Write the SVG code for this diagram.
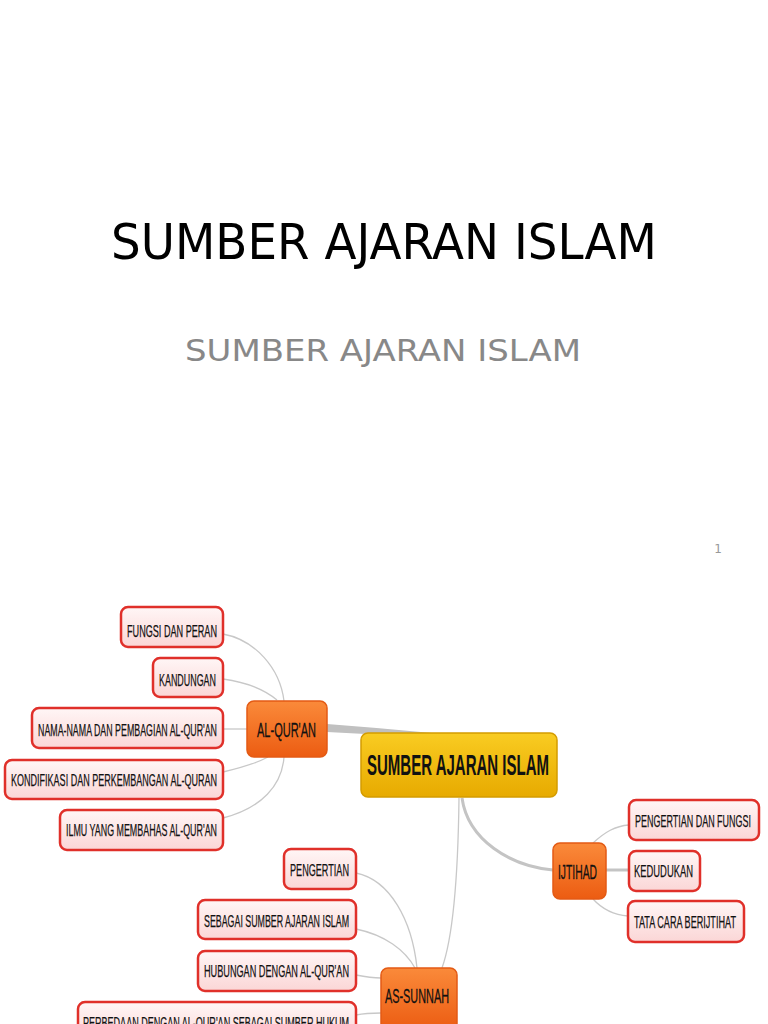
<svg xmlns="http://www.w3.org/2000/svg" width="768" height="1024" viewBox="0 0 768 1024">
<defs>
<linearGradient id="gLeaf" x1="0" y1="0" x2="0" y2="1">
<stop offset="0" stop-color="#fff6f6"/><stop offset="1" stop-color="#fbd6d6"/>
</linearGradient>
<linearGradient id="gOrange" x1="0" y1="0" x2="0" y2="1">
<stop offset="0" stop-color="#fa8a3a"/><stop offset="1" stop-color="#ec5c12"/>
</linearGradient>
<linearGradient id="gYellow" x1="0" y1="0" x2="0" y2="1">
<stop offset="0" stop-color="#f9cc22"/><stop offset="1" stop-color="#e7aa00"/>
</linearGradient>
</defs>
<style>
.title{font-family:"DejaVu Sans",sans-serif;font-size:50px;fill:#000}
.sub{font-family:"DejaVu Sans",sans-serif;font-size:30px;fill:#888}
.pg{font-family:"DejaVu Sans",sans-serif;font-size:12px;fill:#999}
.leaf rect{fill:url(#gLeaf);stroke:#e0302a;stroke-width:2.5}
.leaf text{font-family:"Liberation Sans",Arial,sans-serif;font-size:17px;fill:#111;stroke:#111;stroke-width:0.25}
.main rect{fill:url(#gOrange);stroke:#e35a14;stroke-width:1.5}
.main text{font-family:"Liberation Sans",Arial,sans-serif;font-size:21px;fill:#111;stroke:#111;stroke-width:0.3}
.root rect{fill:url(#gYellow);stroke:#d49c00;stroke-width:1.5}
.root text{font-family:"Liberation Sans",Arial,sans-serif;font-size:29px;font-weight:bold;fill:#111}
.c{fill:none;stroke:#c8c8c8;stroke-width:1.3}
.ct{fill:none;stroke:#c4c4c4;stroke-width:3}
</style>

<text class="title" x="384" y="259" text-anchor="middle" textLength="546" lengthAdjust="spacingAndGlyphs">SUMBER AJARAN ISLAM</text>
<text class="sub" x="383" y="361" text-anchor="middle" textLength="396" lengthAdjust="spacingAndGlyphs">SUMBER AJARAN ISLAM</text>
<text class="pg" x="718" y="553" text-anchor="middle">1</text>

<g id="connectors">
<path class="c" d="M223,634 C255,640 280,668 284,701"/>
<path class="c" d="M223,679 C245,682 265,690 277,700"/>
<path class="c" d="M223,729 L247,729"/>
<path class="c" d="M223,772 C240,768 255,764 268,757"/>
<path class="c" d="M223,818 C262,808 282,785 284,757"/>
<path d="M327,724 Q380,728 432,733 L432,737 Q380,735 327,732 Z" fill="#c0c0c0"/>
<path class="ct" d="M462,798 C468,840 510,866 553,870"/>
<path class="c" d="M459,798 C458,880 452,940 442,968"/>
<path class="c" d="M593,843 C605,832 615,826 629,825"/>
<path class="ct" d="M606,870 L629,870"/>
<path class="c" d="M593,899 C603,910 615,915 628,916"/>
<path class="c" d="M356,873 C390,880 412,920 417,968"/>
<path class="c" d="M356,929 C385,935 405,950 415,968"/>
<path class="c" d="M356,975 C366,977 372,978 381,978"/>
<path class="c" d="M356,1015 C366,1013 372,1013 381,1013"/>
</g>

<g id="root" class="root">
<rect x="361" y="733" width="196" height="64" rx="7"/>
<text x="367" y="775" textLength="182" lengthAdjust="spacingAndGlyphs">SUMBER AJARAN ISLAM</text>
</g>

<g id="alquran" class="main">
<rect x="247" y="701" width="80" height="56" rx="7"/>
<text x="257" y="737" textLength="59" lengthAdjust="spacingAndGlyphs">AL-QUR'AN</text>
</g>
<g id="ijtihad" class="main">
<rect x="553" y="843" width="53" height="56" rx="7"/>
<text x="558" y="879" textLength="39" lengthAdjust="spacingAndGlyphs">IJTIHAD</text>
</g>
<g id="assunnah" class="main">
<rect x="381" y="968" width="76" height="62" rx="7"/>
<text x="385" y="1003" textLength="64" lengthAdjust="spacingAndGlyphs">AS-SUNNAH</text>
</g>

<g id="q1" class="leaf"><rect x="121" y="607" width="102" height="40" rx="7"/>
<text x="127" y="637" textLength="90" lengthAdjust="spacingAndGlyphs">FUNGSI DAN PERAN</text></g>
<g id="q2" class="leaf"><rect x="153" y="658" width="70" height="39" rx="7"/>
<text x="159" y="686" textLength="57" lengthAdjust="spacingAndGlyphs">KANDUNGAN</text></g>
<g id="q3" class="leaf"><rect x="32" y="708" width="191" height="40" rx="7"/>
<text x="38" y="736" textLength="179" lengthAdjust="spacingAndGlyphs">NAMA-NAMA DAN PEMBAGIAN AL-QUR'AN</text></g>
<g id="q4" class="leaf"><rect x="5" y="760" width="218" height="39" rx="7"/>
<text x="11" y="786" textLength="206" lengthAdjust="spacingAndGlyphs">KONDIFIKASI DAN PERKEMBANGAN AL-QURAN</text></g>
<g id="q5" class="leaf"><rect x="60" y="810" width="163" height="40" rx="7"/>
<text x="66" y="836" textLength="151" lengthAdjust="spacingAndGlyphs">ILMU YANG MEMBAHAS AL-QUR'AN</text></g>

<g id="i1" class="leaf"><rect x="629" y="800" width="130" height="40" rx="7"/>
<text x="635" y="827" textLength="116" lengthAdjust="spacingAndGlyphs">PENGERTIAN DAN FUNGSI</text></g>
<g id="i2" class="leaf"><rect x="629" y="851" width="71" height="40" rx="7"/>
<text x="634" y="877" textLength="59" lengthAdjust="spacingAndGlyphs">KEDUDUKAN</text></g>
<g id="i3" class="leaf"><rect x="628" y="901" width="116" height="41" rx="7"/>
<text x="634" y="928" textLength="102" lengthAdjust="spacingAndGlyphs">TATA CARA BERIJTIHAT</text></g>

<g id="s1" class="leaf"><rect x="284" y="849" width="72" height="40" rx="7"/>
<text x="290" y="876" textLength="59" lengthAdjust="spacingAndGlyphs">PENGERTIAN</text></g>
<g id="s2" class="leaf"><rect x="198" y="900" width="158" height="39" rx="7"/>
<text x="204" y="927" textLength="145" lengthAdjust="spacingAndGlyphs">SEBAGAI SUMBER AJARAN ISLAM</text></g>
<g id="s3" class="leaf"><rect x="198" y="951" width="158" height="40" rx="7"/>
<text x="204" y="977" textLength="145" lengthAdjust="spacingAndGlyphs">HUBUNGAN DENGAN AL-QUR'AN</text></g>
<g id="s4" class="leaf"><rect x="78" y="1002" width="278" height="40" rx="7"/>
<text x="83" y="1029" textLength="266" lengthAdjust="spacingAndGlyphs">PERBEDAAN DENGAN AL-QUR'AN SEBAGAI SUMBER HUKUM</text></g>
</svg>
